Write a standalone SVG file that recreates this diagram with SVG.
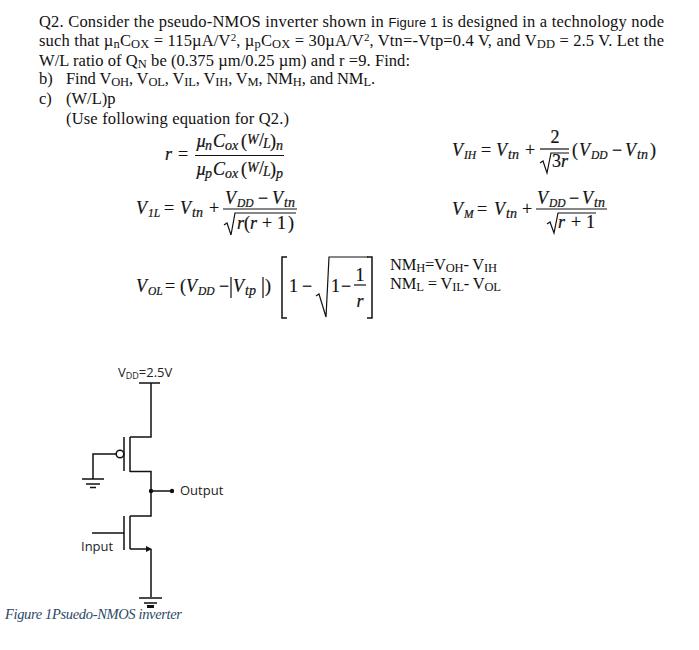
<svg xmlns="http://www.w3.org/2000/svg" width="699" height="650" viewBox="0 0 699 650">
<defs>
<style>
.t{font-family:"Liberation Serif",serif;font-size:16.5px;fill:#111}
.s{font-size:12.5px;baseline-shift:-1.5px}
.p{font-size:11px;baseline-shift:5px}
.m{font-family:"Liberation Serif",serif;font-size:18px;font-style:italic;fill:#111;stroke:#111;stroke-width:.2px}
.n{font-style:normal}
.b{font-size:14px;baseline-shift:-3px}
.u{font-size:11.5px;baseline-shift:-3px}
.h{font-size:14px}
.w{fill:none;stroke:#111;stroke-width:1.5}
.v{fill:none;stroke:#111;stroke-width:1.2}
.c{font-family:"Open Sans",sans-serif;font-size:13px;fill:#222}
.d{fill:#111}
</style>
</defs>
<rect width="699" height="650" fill="#fff"/>
<g id="question-text">
<text class="t" x="39" y="27" textLength="625" lengthAdjust="spacing">Q2. Consider the pseudo-NMOS inverter shown in <tspan font-family="Liberation Sans" font-size="13">Figure 1</tspan> is designed in a technology node</text>
<text class="t" x="39" y="46" textLength="625" lengthAdjust="spacing">such that µ<tspan class="s">n</tspan>C<tspan class="s">OX</tspan> = 115µA/V<tspan class="p">2</tspan>, µ<tspan class="s">p</tspan>C<tspan class="s">OX</tspan> = 30µA/V<tspan class="p">2</tspan>, Vtn=-Vtp=0.4 V, and V<tspan class="s">DD</tspan> = 2.5 V. Let the</text>
<text class="t" x="39" y="66" textLength="371" lengthAdjust="spacing">W/L ratio of Q<tspan class="s">N</tspan> be (0.375 µm/0.25 µm) and r =9. Find:</text>
<text class="t" x="39" y="84">b)</text>
<text class="t" x="66" y="84" textLength="309" lengthAdjust="spacing">Find V<tspan class="s">OH</tspan>, V<tspan class="s">OL</tspan>, V<tspan class="s">IL</tspan>, V<tspan class="s">IH</tspan>, V<tspan class="s">M</tspan>, NM<tspan class="s">H</tspan>, and NM<tspan class="s">L</tspan>.</text>
<text class="t" x="39" y="104">c)</text>
<text class="t" x="66" y="104">(W/L)p</text>
<text class="t" x="66" y="124" textLength="223" lengthAdjust="spacing">(Use following equation for Q2.)</text>
</g>
<g id="eq-r">
<text class="m" x="165" y="160">r<tspan class="n" x="178">=</tspan></text>
<text class="m" x="196" y="147">µ<tspan class="b" x="205">n</tspan><tspan x="213">C</tspan><tspan class="b" x="225">ox</tspan><tspan class="n" x="241">(</tspan><tspan class="h" x="247" dy="-3">W</tspan><tspan class="n" x="259" dy="2">/</tspan><tspan class="h" x="263" dy="2">L</tspan><tspan class="n" x="270" dy="-1">)</tspan><tspan class="b" x="276">n</tspan></text>
<path class="v" d="M195 155.500H284"/>
<text class="m" x="196" y="175">µ<tspan class="b" x="205">p</tspan><tspan x="213">C</tspan><tspan class="b" x="225">ox</tspan><tspan class="n" x="241">(</tspan><tspan class="h" x="247" dy="-3">W</tspan><tspan class="n" x="259" dy="2">/</tspan><tspan class="h" x="263" dy="2">L</tspan><tspan class="n" x="270" dy="-1">)</tspan><tspan class="b" x="276">p</tspan></text>
</g>
<g id="eq-vil">
<text class="m" x="136" y="214">V<tspan class="u" x="148">1L</tspan><tspan class="n" x="164">=</tspan><tspan x="180">V</tspan><tspan class="b" x="192">tn</tspan><tspan class="n" x="209">+</tspan></text>
<text class="m" x="225" y="204">V<tspan class="u" x="237">DD</tspan><tspan class="n" x="258">−</tspan><tspan x="272">V</tspan><tspan class="b" x="284">tn</tspan></text>
<path class="v" d="M223 209H297"/>
<path class="v" d="M224 225l3-2 4 12 4-22H296"/>
<text class="m" x="237" y="229">r<tspan class="n" x="244">(</tspan><tspan x="250">r</tspan><tspan class="n" x="262">+</tspan><tspan class="n" x="277">1</tspan><tspan class="n" x="288">)</tspan></text>
</g>
<g id="eq-vih">
<text class="m" x="452" y="156">V<tspan class="u" x="464">IH</tspan><tspan class="n" x="481">=</tspan><tspan x="496">V</tspan><tspan class="b" x="508">tn</tspan><tspan class="n" x="525">+</tspan></text>
<text class="m n" x="555" y="143" text-anchor="middle">2</text>
<path class="v" d="M540 149H569"/>
<path class="v" d="M540 163l3-2 4 12 4-20H569"/>
<text class="m" x="552" y="167"><tspan class="n">3</tspan>r</text>
<text class="m" x="572" y="156"><tspan class="n">(</tspan><tspan x="579">V</tspan><tspan class="u" x="591">DD</tspan><tspan class="n" x="612">−</tspan><tspan x="625">V</tspan><tspan class="b" x="637">tn</tspan><tspan class="n" x="650">)</tspan></text>
</g>
<g id="eq-vm">
<text class="m" x="452" y="215">V<tspan class="u" x="464">M</tspan><tspan class="n" x="477">=</tspan><tspan x="494">V</tspan><tspan class="b" x="506">tn</tspan><tspan class="n" x="522">+</tspan></text>
<text class="m" x="537" y="204">V<tspan class="u" x="549">DD</tspan><tspan class="n" x="569">−</tspan><tspan x="582">V</tspan><tspan class="b" x="594">tn</tspan></text>
<path class="v" d="M536 209H607"/>
<path class="v" d="M547 224l3-2 4 11 4-20H596"/>
<text class="m" x="558" y="228">r<tspan class="n" x="571">+</tspan><tspan class="n" x="586">1</tspan></text>
</g>
<g id="eq-vol">
<text class="m" x="136" y="292">V<tspan class="u" x="148">OL</tspan><tspan class="n" x="165">=</tspan><tspan class="n" x="180">(</tspan><tspan x="186">V</tspan><tspan class="u" x="198">DD</tspan><tspan class="n" x="219">−</tspan></text>
<path class="v" d="M231 277V298M263 277V298"/>
<text class="m" x="233" y="292">V<tspan class="b" x="245">tp</tspan></text>
<text class="m n" x="265" y="292">)</text>
<path class="w" d="M287 257H282V318H287M367 257H372V318H367"/>
<text class="m n" x="289" y="292">1<tspan x="302">−</tspan></text>
<path class="v" d="M316 296l3-2 7 23 3-60H368"/>
<text class="m n" x="331" y="292">1<tspan x="341">−</tspan></text>
<text class="m n" x="360" y="281" text-anchor="middle">1</text>
<path class="v" d="M354 285H366"/>
<text class="m" x="360" y="307" text-anchor="middle">r</text>
</g>
<g id="eq-nm">
<text class="t" x="390" y="270" textLength="107" lengthAdjust="spacing">NM<tspan class="s">H</tspan>=V<tspan class="s">OH</tspan>- V<tspan class="s">IH</tspan></text>
<text class="t" x="390" y="289" textLength="111" lengthAdjust="spacing">NM<tspan class="s">L</tspan> = V<tspan class="s">IL</tspan>- V<tspan class="s">OL</tspan></text>
</g>
<g id="connectors">
<path class="w" d="M151 383V437H130M130 471.500H151V516H130M130 549H149M151 549V597"/>
<path class="w" d="M116 454H93V479"/>
<path class="w" d="M151 491H172"/>
<path class="w" d="M92 533H124"/>
<path class="d" d="M152 549l-6-3v6z"/>
</g>
<g id="vdd">
<path class="w" d="M139 383H160"/>
<text class="c" x="118" y="377">V<tspan font-size="9" baseline-shift="-2px">DD</tspan>=2.5V</text>
</g>
<g id="pmos">
<path class="w" d="M124 437V471M130 437V472"/>
<circle class="w" cx="120" cy="454" r="3.800"/>
</g>
<g id="gnd-pmos">
<path class="w" d="M82 479H104M86 484H100M90 487.500H96"/>
</g>
<g id="output">
<circle class="d" cx="151" cy="491" r="2.200"/>
<circle class="d" cx="172" cy="491" r="2.200"/>
<text class="c" x="180" y="495">Output</text>
</g>
<g id="nmos">
<path class="w" d="M124 516V550M130 516V549"/>
<text class="c" x="81" y="551">Input</text>
</g>
<g id="gnd-nmos">
<path class="w" d="M139 598H162M144 603H157"/>
<path d="M147 605H154V608H147z" class="d"/>
</g>
<g id="caption">
<text x="5" y="619" font-family="Liberation Serif, serif" font-size="14.500" font-style="italic" fill="#2b4766" textLength="177" lengthAdjust="spacing">Figure 1Psuedo-NMOS inverter</text>
</g>
</svg>
